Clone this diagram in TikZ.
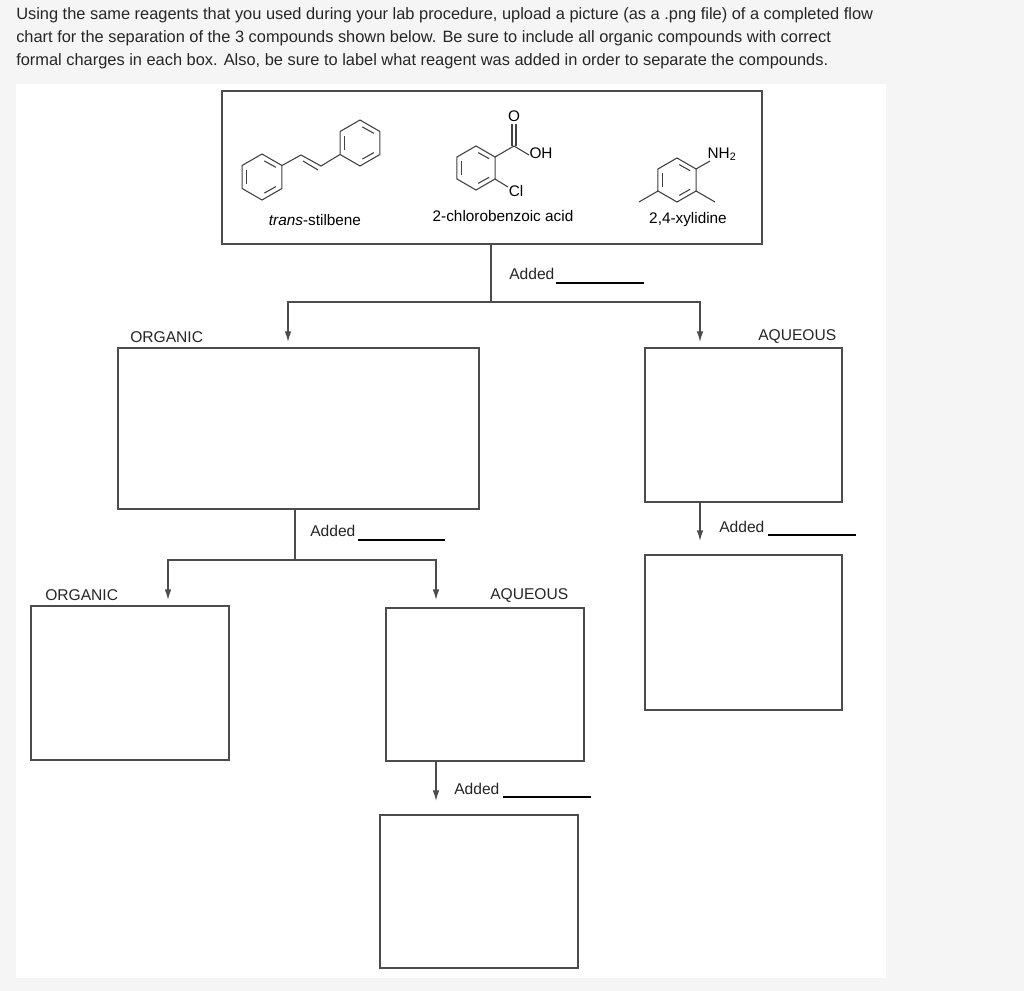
\documentclass[tikz,border=0pt]{standalone}
\usepackage{fontspec}
\setmainfont{Liberation Sans}
\usetikzlibrary{arrows.meta,calc}
\begin{document}
\begin{tikzpicture}[x=0.75pt,y=-0.75pt,
  box/.style={draw=black!70,line width=1.1pt},
  ln/.style={draw=black!70,line width=1pt},
  arr/.style={draw=black!70,line width=1pt,-{Latex[length=8pt,width=5pt]}},
  bond/.style={draw=black!75,line width=0.8pt},
  body/.style={font=\fontsize{12.3pt}{14pt}\selectfont,text=black!85,anchor=base west,inner sep=0},
  lab/.style={font=\fontsize{11.7pt}{13pt}\selectfont,text=black!85,anchor=base west,inner sep=0},
  mol/.style={font=\fontsize{11.5pt}{13pt}\selectfont,inner sep=0}]
\useasboundingbox (0,0) rectangle (1024,991);
\fill[black!4] (0,0) rectangle (1024,991);
\fill[white] (16,84) rectangle (886,978);
\node[body] (t1) at (16,20) {Using the same reagents that you used during your lab procedure, upload a picture (as a .png file) of a completed flow};
\node[body] (t2) at (16,43) {chart for the separation of the 3 compounds shown below. Be sure to include all organic compounds with correct};
\node[body] (t3) at (16,66) {formal charges in each box. Also, be sure to label what reagent was added in order to separate the compounds.};
% boxes
\draw[box] (222,91) rectangle (762,244);
\draw[box] (118,348) rectangle (479,509);
\draw[box] (645,348) rectangle (842,502);
\draw[box] (645,555) rectangle (842,710);
\draw[box] (31,606) rectangle (229,760);
\draw[box] (386,608) rectangle (584,761);
\draw[box] (380,815) rectangle (578,968);
% connectors
\coordinate (s1) at (491,244); \coordinate (j1) at (491,302);
\coordinate (l1) at (288,302); \coordinate (r1) at (700,302);
\draw[ln] (s1) -- (j1);
\draw[arr] (j1) -- (l1) -- (288,342);
\draw[arr] (j1) -- (r1) -- (700,342);
\coordinate (s2) at (295,509); \coordinate (j2) at (295,560);
\draw[ln] (s2) -- (j2);
\draw[arr] (j2) -- (168,560) -- (168,600);
\draw[arr] (j2) -- (436,560) -- (436,600);
\draw[arr] (700,502) -- (700,541);
\draw[arr] (436,761) -- (436,801);
% labels
\node[lab] (a1) at (509,280) {Added};
\draw[line width=0.8pt] (556,283) -- (644,283);
\node[lab] (a2) at (310,536) {Added};
\draw[line width=0.8pt] (358,540) -- (445,540);
\node[lab] (a3) at (719,532) {Added};
\draw[line width=0.8pt] (768,535) -- (856,535);
\node[lab] (a4) at (454,794) {Added};
\draw[line width=0.8pt] (503,797) -- (591,797);
\node[lab] (o1) at (130,342) {ORGANIC};
\node[lab] (q1) at (758,340) {AQUEOUS};
\node[lab] (o2) at (45,600) {ORGANIC};
\node[lab] (q2) at (490,599) {AQUEOUS};
% molecule captions
\node[mol] (c1) at (315,220) {\textit{trans}-stilbene};
\node[mol] (c2) at (503,216) {2-chlorobenzoic acid};
\node[mol] (c3) at (688,220) {2,4-xylidine};
% hexagon: center x, center y, radius; pointy top, screen coords (y down)
\newcommand{\myhex}[3]{%
  \draw[bond] ($(#1,#2)+(0,-#3)$) -- ($(#1,#2)+(0.866*#3,-0.5*#3)$) -- ($(#1,#2)+(0.866*#3,0.5*#3)$) -- ($(#1,#2)+(0,#3)$) -- ($(#1,#2)+(-0.866*#3,0.5*#3)$) -- ($(#1,#2)+(-0.866*#3,-0.5*#3)$) -- cycle;
  \draw[bond] ($(#1,#2)+(0.1*#3,-0.7*#3)$) -- ($(#1,#2)+(0.6*#3,-0.42*#3)$);
  \draw[bond] ($(#1,#2)+(0.1*#3,0.7*#3)$) -- ($(#1,#2)+(0.6*#3,0.42*#3)$);
  \draw[bond] ($(#1,#2)+(-0.68*#3,-0.3*#3)$) -- ($(#1,#2)+(-0.68*#3,0.3*#3)$);
}
% stilbene
\myhex{262}{177}{23}
\myhex{360}{143}{23}
\draw[bond] (282,165.5) -- (301,155) -- (321,166) -- (340,154.5);
\draw[bond] (303,161) -- (318,170);
% chlorobenzoic acid
\myhex{476}{168}{22}
\draw[bond] (495,157) -- (514,146) -- (529,155);
\draw[bond] (512,146) -- (512,124);
\draw[bond] (516,146) -- (516,124);
\node[mol] (oxy) at (514,116) {O};
\node[mol] (oh) at (541,153) {OH};
\draw[bond] (495,179) -- (508,187);
\node[mol] (cl) at (516,191) {Cl};
% xylidine
\myhex{677}{180}{22}
\draw[bond] (696,169) -- (710,161);
\node[mol] (nh) at (722,154) {NH\textsubscript{2}};
\draw[bond] (658,191) -- (639,202);
\draw[bond] (696,191) -- (715,202);
\end{tikzpicture}
\end{document}
